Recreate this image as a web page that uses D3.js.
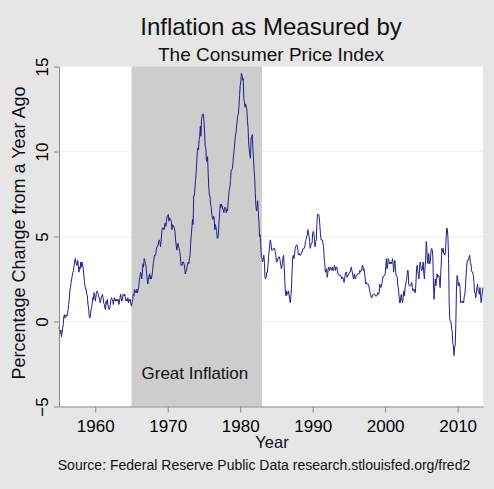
<!DOCTYPE html>
<html>
<head>
<meta charset="utf-8">
<script src="https://cdn.jsdelivr.net/npm/d3@7"></script>
<style>
body { margin: 0; background: #e6e6e6; }
svg { display: block; font-family: "Liberation Sans", Arial, sans-serif; }
</style>
</head>
<body>
<div id="chart"></div>
<script>
// monthly CPI, percent change from a year ago, Jan 1955 onwards
const startYear = 1955;
const cpiChange = [
  -0.3, -0.6, -0.7, -0.5, -0.9, -0.7, -0.4, -0.2, 0.3, 0.4, 0.2, 0.3,   // 1955
  0.4, 0.3, 0.4, 0.7, 1.0, 1.3, 1.8, 2.0, 2.3, 2.5, 2.7, 2.9,           // 1956
  3.0, 3.3, 3.6, 3.7, 3.5, 3.3, 3.3, 3.6, 3.3, 2.9, 3.2, 3.1,           // 1957
  3.5, 3.2, 3.5, 3.4, 3.1, 2.8, 2.4, 2.1, 1.9, 1.9, 1.6, 1.5,           // 1958
  1.0, 0.8, 0.3, 0.2, 0.3, 0.7, 0.8, 1.1, 1.4, 1.3, 1.7, 1.6,           // 1959
  1.2, 1.4, 1.7, 1.8, 1.7, 1.6, 1.4, 1.4, 1.1, 1.2, 1.4, 1.5,           // 1960
  1.6, 1.4, 1.1, 1.0, 0.8, 0.7, 1.2, 1.0, 1.3, 1.0, 0.8, 0.7,           // 1961
  0.8, 1.0, 1.3, 1.4, 1.3, 1.2, 1.0, 1.3, 1.4, 1.2, 1.3, 1.2,           // 1962
  1.3, 1.2, 1.3, 1.0, 1.1, 1.4, 1.6, 1.4, 1.2, 1.3, 1.6, 1.6,           // 1963
  1.5, 1.6, 1.3, 1.2, 1.3, 1.2, 1.4, 1.1, 1.3, 1.2, 1.3, 1.0,           // 1964
  0.9, 1.1, 1.3, 1.6, 1.5, 1.9, 1.7, 1.8, 1.7, 1.9, 1.7, 1.9,           // 1965
  2.0, 2.5, 2.6, 2.9, 2.8, 2.5, 2.9, 3.4, 3.2, 3.7, 3.6, 3.4,           // 1966
  3.3, 2.8, 2.5, 2.2, 2.4, 2.7, 2.8, 2.5, 2.7, 2.5, 2.7, 3.0,           // 1967
  3.4, 3.6, 3.9, 3.9, 3.9, 4.2, 4.4, 4.4, 4.5, 4.7, 4.8, 4.7,           // 1968
  4.4, 4.7, 5.2, 5.5, 5.5, 5.5, 5.4, 5.7, 5.8, 5.6, 5.9, 6.2,           // 1969
  6.2, 6.3, 5.9, 6.1, 6.0, 6.0, 5.9, 5.4, 5.7, 5.6, 5.6, 5.5,           // 1970
  5.3, 4.8, 4.5, 4.2, 4.4, 4.6, 4.4, 4.3, 4.1, 3.8, 3.3, 3.3,           // 1971
  3.3, 3.5, 3.5, 3.4, 3.2, 2.8, 2.9, 3.0, 3.2, 3.4, 3.5, 3.4,           // 1972
  3.7, 3.9, 4.6, 5.1, 5.5, 6.0, 5.7, 7.4, 7.4, 7.8, 8.3, 8.7,           // 1973
  9.4, 10.0, 10.2, 10.1, 10.7, 10.9, 11.5, 10.9, 11.9, 12.1, 12.2, 12.2, // 1974
  11.8, 11.2, 10.3, 10.2, 9.5, 9.4, 9.7, 8.7, 7.9, 7.4, 7.4, 6.9,       // 1975
  6.7, 6.3, 6.1, 6.0, 6.2, 6.0, 5.4, 5.7, 5.5, 5.3, 4.9, 4.9,           // 1976
  5.2, 5.9, 6.4, 6.9, 6.7, 6.9, 6.8, 6.6, 6.6, 6.4, 6.7, 6.7,           // 1977
  6.7, 6.4, 6.6, 6.5, 7.0, 7.4, 7.8, 7.9, 8.3, 8.9, 8.9, 9.0,           // 1978
  9.3, 9.8, 10.1, 10.5, 10.9, 11.1, 11.5, 11.8, 12.1, 12.2, 12.7, 13.3, // 1979
  13.9, 14.1, 14.6, 14.5, 14.2, 14.3, 13.1, 12.9, 12.6, 12.8, 12.6, 12.5, // 1980
  11.8, 11.4, 10.5, 10.1, 9.8, 9.6, 10.8, 10.8, 11.0, 10.2, 9.6, 8.9,   // 1981
  8.4, 7.6, 6.8, 6.5, 6.7, 7.1, 6.4, 5.9, 5.0, 5.1, 4.6, 3.8,           // 1982
  3.7, 3.5, 3.6, 3.9, 3.6, 2.6, 2.5, 2.6, 2.9, 2.9, 3.3, 3.8,           // 1983
  4.2, 4.6, 4.8, 4.6, 4.2, 4.2, 4.2, 4.3, 4.3, 4.3, 4.1, 3.9,           // 1984
  3.5, 3.5, 3.7, 3.7, 3.8, 3.8, 3.6, 3.4, 3.1, 3.2, 3.5, 3.8,           // 1985
  3.9, 3.1, 2.3, 1.6, 1.5, 1.8, 1.6, 1.6, 1.8, 1.5, 1.3, 1.1,           // 1986
  1.5, 2.1, 3.0, 3.8, 3.9, 3.7, 3.9, 4.3, 4.4, 4.5, 4.5, 4.4,           // 1987
  4.0, 3.9, 4.0, 3.9, 3.9, 4.0, 4.1, 4.1, 4.3, 4.3, 4.3, 4.4,           // 1988
  4.7, 4.8, 5.0, 5.1, 5.4, 5.2, 5.0, 4.7, 4.3, 4.5, 4.6, 4.6,           // 1989
  5.2, 5.3, 5.2, 4.7, 4.4, 4.7, 4.8, 5.7, 6.3, 6.3, 6.3, 6.1,           // 1990
  5.6, 5.1, 4.8, 4.8, 4.8, 4.6, 4.4, 3.8, 3.4, 2.9, 3.0, 3.1,           // 1991
  2.6, 2.8, 3.2, 3.2, 3.0, 3.1, 3.2, 3.1, 3.0, 3.2, 3.0, 3.0,           // 1992
  3.3, 3.2, 3.0, 3.2, 3.2, 3.0, 2.8, 2.8, 2.7, 2.7, 2.7, 2.7,           // 1993
  2.5, 2.6, 2.6, 2.4, 2.3, 2.5, 2.8, 2.9, 2.9, 2.6, 2.7, 2.7,           // 1994
  2.8, 2.9, 2.9, 3.1, 3.2, 3.0, 2.8, 2.6, 2.5, 2.8, 2.6, 2.5,           // 1995
  2.7, 2.7, 2.8, 2.8, 2.8, 2.8, 3.0, 2.9, 3.0, 3.0, 3.3, 3.3,           // 1996
  3.0, 3.1, 2.8, 2.5, 2.2, 2.3, 2.2, 2.2, 2.2, 2.1, 1.9, 1.7,           // 1997
  1.6, 1.4, 1.4, 1.5, 1.6, 1.6, 1.6, 1.6, 1.5, 1.5, 1.5, 1.6,           // 1998
  1.7, 1.6, 1.7, 2.2, 2.1, 2.0, 2.1, 2.3, 2.6, 2.6, 2.7, 2.7,           // 1999
  2.8, 3.2, 3.7, 3.1, 3.2, 3.7, 3.6, 3.4, 3.5, 3.4, 3.5, 3.4,           // 2000
  3.7, 3.5, 2.9, 3.3, 3.6, 3.2, 2.7, 2.7, 2.6, 2.1, 1.9, 1.5,           // 2001
  1.1, 1.1, 1.5, 1.6, 1.2, 1.1, 1.5, 1.8, 1.5, 2.0, 2.2, 2.4,           // 2002
  2.6, 3.0, 3.0, 2.2, 2.1, 2.1, 2.1, 2.2, 2.3, 2.0, 1.8, 1.9,           // 2003
  1.9, 1.7, 1.7, 2.3, 3.1, 3.3, 3.0, 2.7, 2.5, 3.2, 3.5, 3.3,           // 2004
  3.0, 3.0, 3.2, 3.5, 2.8, 2.5, 3.2, 3.6, 4.7, 4.4, 3.5, 3.4,           // 2005
  4.0, 3.6, 3.4, 3.6, 4.2, 4.3, 4.2, 3.8, 2.1, 1.3, 2.0, 2.5,           // 2006
  2.1, 2.4, 2.8, 2.6, 2.7, 2.7, 2.4, 2.0, 2.8, 3.5, 4.3, 4.1,           // 2007
  4.3, 4.0, 4.0, 3.9, 4.2, 5.0, 5.5, 5.4, 4.9, 3.7, 1.1, 0.1,           // 2008
  0.0, 0.0, -0.4, -0.6, -1.3, -1.4, -2.0, -1.5, -1.4, -0.2, 1.8, 2.7,   // 2009
  2.6, 2.1, 2.3, 2.2, 2.0, 1.1, 1.2, 1.2, 1.1, 1.2, 1.1, 1.5,           // 2010
  1.6, 2.1, 2.7, 3.2, 3.6, 3.6, 3.6, 3.8, 3.9, 3.5, 3.4, 3.0,           // 2011
  2.9, 2.9, 2.7, 2.3, 1.7, 1.7, 1.4, 1.7, 2.0, 2.2, 1.8, 1.7,           // 2012
  1.6, 2.0, 1.5, 1.1, 1.4, 1.8, 2.0                                     // 2013
];
const xTicks = [1960, 1970, 1980, 1990, 2000, 2010];
const yTicks = [-5, 0, 5, 10, 15];
const gridLines = [0, 5, 10];
const shadeSpan = [1965, 1983];
const shadeLabel = "Great Inflation";

const w = 494, h = 489;
const svg = d3.select("#chart").append("svg")
  .attr("width", w)
  .attr("height", h);

svg.append("rect").attr("width", w).attr("height", h).attr("fill", "#e6e6e6");

const x = d3.scaleLinear().domain([1955, 2013.5]).range([59, 483]);
const y = d3.scaleLinear().domain([-5, 15]).range([406.5, 66.5]);

// plot region
svg.append("rect")
  .attr("x", x(1955)).attr("y", y(15))
  .attr("width", x(2013.5) - x(1955)).attr("height", y(-5) - y(15))
  .attr("fill", "#ffffff");

svg.selectAll(".grid")
  .data(gridLines)
  .enter().append("line")
  .attr("class", "grid")
  .attr("x1", x(1955)).attr("x2", x(2013.5))
  .attr("y1", d => y(d)).attr("y2", d => y(d))
  .attr("stroke", "#eeeeee")
  .attr("stroke-width", 1);

svg.append("rect")
  .attr("x", x(shadeSpan[0])).attr("y", y(15))
  .attr("width", x(shadeSpan[1]) - x(shadeSpan[0]))
  .attr("height", y(-5) - y(15))
  .attr("fill", "#cdcdcd");

svg.append("text")
  .attr("x", x(1973.75)).attr("y", 378.5)
  .attr("text-anchor", "middle")
  .attr("font-size", "17px")
  .attr("fill", "#111")
  .text(shadeLabel);

const line = d3.line()
  .x((d, i) => x(startYear + i / 12))
  .y(d => y(d));

svg.append("path")
  .datum(cpiChange)
  .attr("d", line)
  .attr("fill", "none")
  .attr("stroke", "#20208a")
  .attr("stroke-width", 1);

// axes
const yAxis = d3.axisLeft(y).tickValues(yTicks).tickSize(5).tickSizeOuter(0);
const gy = svg.append("g")
  .attr("transform", "translate(" + x(1955) + ",0)")
  .call(yAxis);
gy.selectAll("text")
  .attr("transform", "rotate(-90)")
  .attr("x", 0).attr("y", -11).attr("dy", 0)
  .attr("text-anchor", "middle")
  .attr("font-size", "17px")
  .attr("font-family", "Liberation Sans, Arial, sans-serif")
  .attr("fill", "#000");

const xAxis = d3.axisBottom(x).tickValues(xTicks).tickFormat(d3.format("d")).tickSize(6).tickSizeOuter(0);
const gx = svg.append("g")
  .attr("transform", "translate(0," + y(-5) + ")")
  .call(xAxis);
gx.selectAll("text")
  .attr("y", 25.5).attr("dy", 0)
  .attr("font-size", "17px")
  .attr("font-family", "Liberation Sans, Arial, sans-serif")
  .attr("fill", "#000");

svg.selectAll(".domain, .tick line").attr("stroke", "#8a8a8a");

// titles
svg.append("text")
  .attr("x", 271).attr("y", 35)
  .attr("text-anchor", "middle")
  .attr("font-size", "24px")
  .attr("fill", "#111")
  .text("Inflation as Measured by");

svg.append("text")
  .attr("x", 271).attr("y", 60.5)
  .attr("text-anchor", "middle")
  .attr("font-size", "19px")
  .attr("fill", "#111")
  .text("The Consumer Price Index");

svg.append("text")
  .attr("transform", "translate(25," + 233 + ") rotate(-90)")
  .attr("text-anchor", "middle")
  .attr("font-size", "18px")
  .attr("fill", "#111")
  .text("Percentage Change from a Year Ago");

svg.append("text")
  .attr("x", 272).attr("y", 448)
  .attr("text-anchor", "middle")
  .attr("font-size", "16.5px")
  .attr("fill", "#111")
  .text("Year");

svg.append("text")
  .attr("x", 264).attr("y", 470)
  .attr("text-anchor", "middle")
  .attr("font-size", "14px")
  .attr("fill", "#111")
  .text("Source: Federal Reserve Public Data research.stlouisfed.org/fred2");
</script>
</body>
</html>
